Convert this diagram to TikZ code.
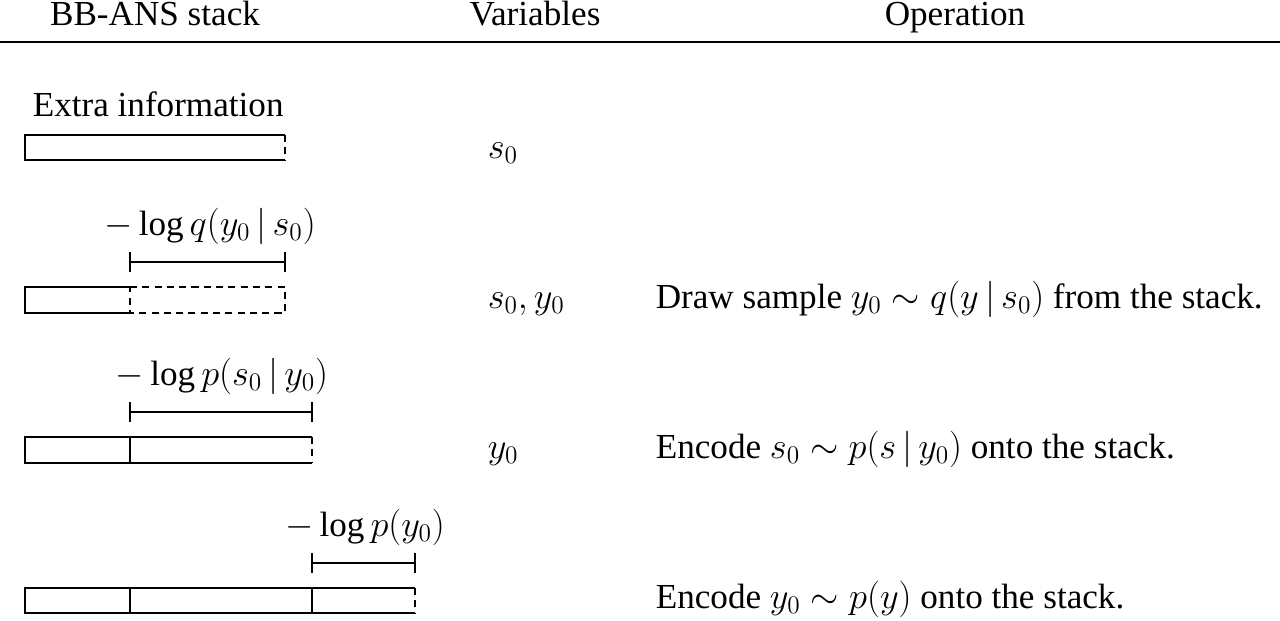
\documentclass[tikz,border=0pt]{standalone}
\usepackage{fontspec}
\setmainfont{Liberation Serif}
\begin{document}
\begin{tikzpicture}[x=0.02cm,y=-0.02cm,line width=0.9pt,
  txt/.style={font=\fontsize{20}{24}\selectfont,inner sep=0pt},
  dsh/.style={dash pattern=on 4pt off 3pt}]
\useasboundingbox (0,0) rectangle (1280,620);
\node[txt,anchor=base] (h1) at (155,25) {BB-ANS stack};
\node[txt,anchor=base] (h2) at (535,25) {Variables};
\node[txt,anchor=base] (h3) at (955,25) {Operation};
\draw (0,42) -- (1280,42);
% bar 1
\node[txt,anchor=base west] (ei) at (32,116) {Extra information};
\draw (285,135) -- (25,135) -- (25,160) -- (285,160);
\draw[dsh] (285,135) -- (285,160);
\node[txt,anchor=base west] (v1) at (487,158) {$s_0$};
% bar 2
\draw (130,287) -- (25,287) -- (25,313) -- (130,313);
\draw[dsh] (130,287) -- (285,287) -- (285,313) -- (130,313) -- (130,287);
\draw (130,262) -- (285,262); \draw (130,252) -- (130,272); \draw (285,252) -- (285,272);
\node[txt,anchor=base] (l2) at (210,235) {$-\log q(y_0\,|\,s_0)$};
\node[txt,anchor=base west] (v2) at (487,308) {$s_0, y_0$};
\node[txt,anchor=base west] (o2) at (655,308) {Draw sample $y_0\sim q(y\,|\,s_0)$ from the stack.};
% bar 3
\draw (312,437) -- (25,437) -- (25,463) -- (312,463);
\draw (130,437) -- (130,463);
\draw[dsh] (312,437) -- (312,463);
\draw (130,412) -- (312,412); \draw (130,402) -- (130,422); \draw (312,402) -- (312,422);
\node[txt,anchor=base] (l3) at (222,385) {$-\log p(s_0\,|\,y_0)$};
\node[txt,anchor=base west] (v3) at (487,458) {$y_0$};
\node[txt,anchor=base west] (o3) at (655,458) {Encode $s_0\sim p(s\,|\,y_0)$ onto the stack.};
% bar 4
\draw (415,588) -- (25,588) -- (25,613) -- (415,613);
\draw (130,588) -- (130,613); \draw (312,588) -- (312,613);
\draw[dsh] (415,588) -- (415,613);
\draw (312,563) -- (415,563); \draw (312,553) -- (312,573); \draw (415,553) -- (415,573);
\node[txt,anchor=base] (l4) at (365,536) {$-\log p(y_0)$};
\node[txt,anchor=base west] (o4) at (655,608) {Encode $y_0\sim p(y)$ onto the stack.};
\end{tikzpicture}
\end{document}
